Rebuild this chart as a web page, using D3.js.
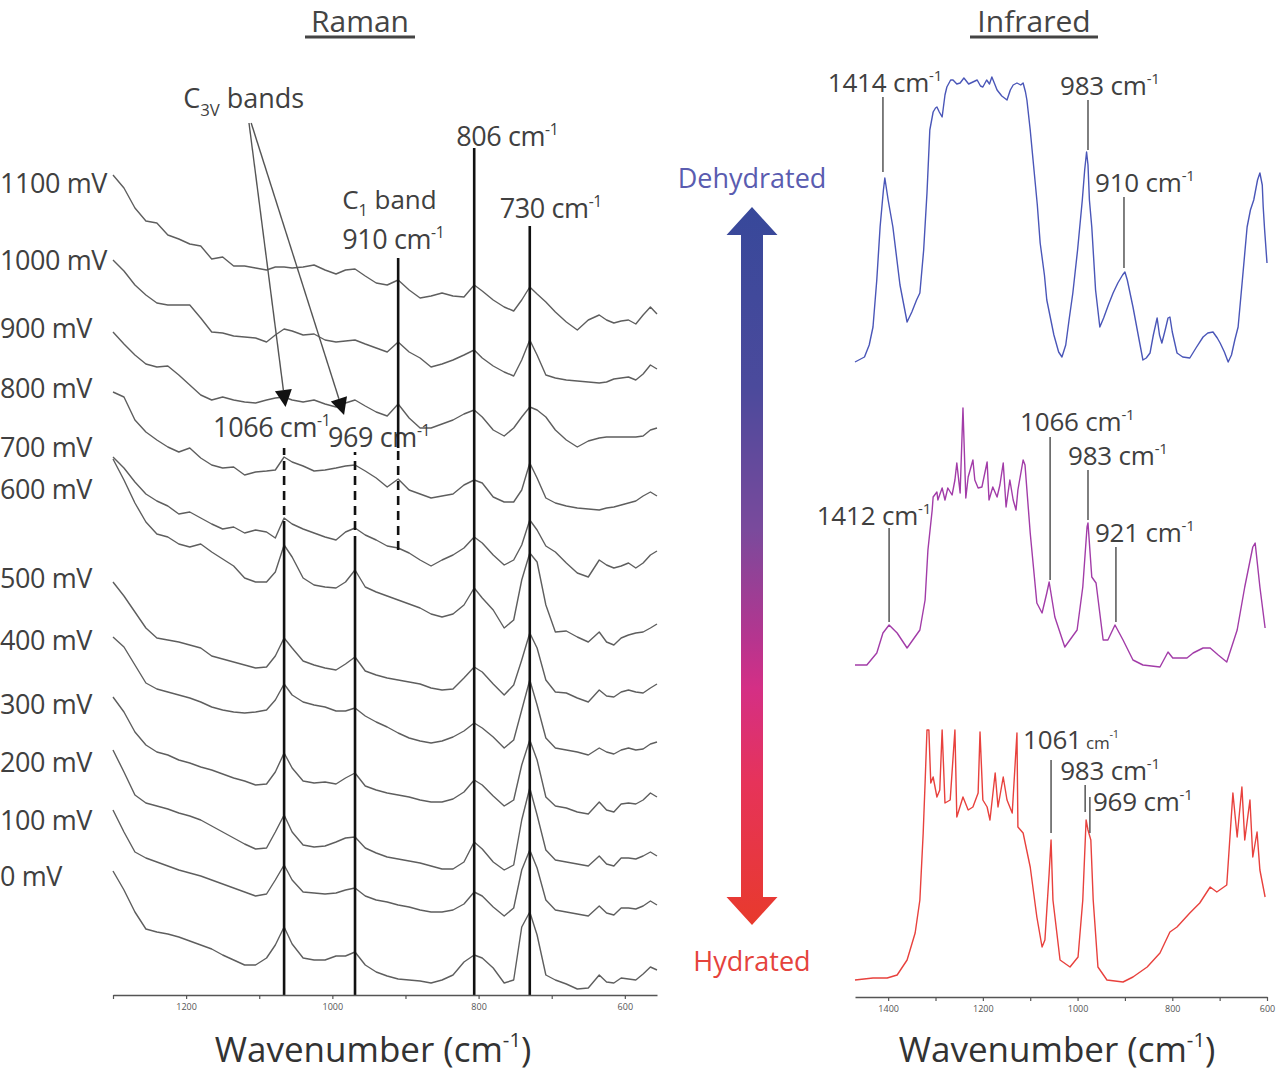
<!DOCTYPE html>
<html>
<head>
<meta charset="utf-8">
<script src="https://cdn.jsdelivr.net/npm/d3@7/dist/d3.min.js"></script>
<style>
html,body{margin:0;padding:0;background:#fff;}
svg{display:block;}
</style>
</head>
<body>
<svg id="chart" width="1280" height="1073"></svg>
<script>
// ================= DATA =================
// Raman: common wavenumber grid (cm-1)
const ramanWn = [1300,1285,1270,1255,1240,1225,1210,1195,1180,1165,1150,1135,1120,1105,1090,1078,1066,1055,1040,1025,1010,995,982,969,955,940,925,910,895,880,865,850,835,820,806,795,780,765,752,741,730,720,708,695,680,665,650,635,625,615,605,595,585,575,565,556];
const ramanPotentials = ["1100 mV","1000 mV","900 mV","800 mV","700 mV","600 mV","500 mV","400 mV","300 mV","200 mV","100 mV","0 mV"];
// stacking offset of each spectrum (a.u.)
const ramanOffsets = [665,610,545,485,415,350,290,240,180,125,75,5];
// intensities (a.u.)
const raman1100 = [155,142,122,109,107,95,91,86,84,71,73,64,64,62,60,63,63,62,63,65,60,56,60,61,54,47,45,50,40,32,34,37,34,33,45,39,30,23,19,30,43,36,28,18,8,0,10,15,10,7,9,10,6,15,23,16];
const raman1000 = [125,114,100,90,82,80,80,80,67,53,52,49,48,47,43,50,56,54,50,51,45,43,44,45,41,37,33,43,33,27,18,21,25,30,35,27,19,13,9,25,45,30,10,7,5,4,3,2,3,6,7,8,5,11,20,16];
const raman900  = [118,106,95,86,83,84,75,65,55,50,53,50,48,47,50,52,53,50,48,50,46,43,47,50,44,38,34,46,32,22,22,26,30,36,40,33,20,14,22,33,43,40,33,20,10,3,9,12,13,13,13,13,13,14,20,22];
const raman800  = [118,113,90,78,70,63,58,62,52,45,42,43,35,38,39,40,53,48,44,39,40,42,44,45,39,32,23,31,20,16,12,14,16,25,30,27,13,8,8,20,47,32,12,7,4,2,1,0,2,3,5,7,9,14,18,14];
const raman700  = [123,112,98,86,79,74,66,68,62,56,51,53,47,50,48,42,62,56,51,47,43,40,48,52,45,40,34,32,27,20,14,20,25,32,43,37,25,15,20,35,60,50,34,28,17,7,3,20,15,12,14,17,12,17,25,29];
const raman600  = [186,165,142,123,111,108,101,98,101,93,86,79,67,63,63,73,100,88,67,60,58,57,63,75,58,53,49,45,41,37,31,28,31,40,57,47,35,17,25,65,92,83,40,13,14,8,3,13,3,0,7,10,12,13,17,21];
const raman500  = [123,109,93,77,67,65,63,60,57,49,46,43,40,37,38,49,67,57,44,40,37,35,41,48,34,30,27,25,23,21,17,15,16,27,38,33,21,10,20,45,72,57,25,13,12,7,3,15,9,8,13,15,13,12,17,21];
const raman400  = [118,108,90,72,66,63,60,57,53,48,45,43,42,43,45,55,71,60,53,50,48,44,44,47,39,33,28,22,17,14,12,14,18,24,32,27,18,7,15,45,75,50,17,7,5,3,0,7,3,1,5,7,5,6,11,13];
const raman300  = [118,103,83,70,63,60,55,52,48,45,41,37,34,30,31,43,62,47,34,32,33,31,37,42,29,25,22,20,18,15,13,13,16,23,35,30,19,9,15,50,75,55,18,9,7,3,1,13,5,3,11,12,11,15,22,18];
const raman200  = [120,98,75,67,64,61,57,54,50,44,38,32,26,21,22,38,55,38,25,23,24,28,32,33,22,17,13,11,9,7,4,1,1,8,28,21,8,0,5,50,82,55,20,10,8,6,4,14,6,4,12,12,11,14,18,14];
const raman100  = [110,88,68,62,58,54,50,47,44,40,36,32,28,24,26,40,55,40,28,27,26,27,30,32,24,20,18,15,13,10,8,8,10,16,28,24,13,4,12,50,70,52,20,10,8,6,4,14,7,5,12,12,11,14,19,15];
const raman0    = [119,100,78,61,58,56,53,49,45,41,35,30,25,25,32,45,63,46,32,30,30,34,34,38,25,18,14,11,10,9,7,10,15,28,35,32,22,7,10,63,78,55,15,10,6,1,2,15,8,7,12,11,10,16,23,20];
const ramanSeries = [raman1100,raman1000,raman900,raman800,raman700,raman600,raman500,raman400,raman300,raman200,raman100,raman0];
const ramanTicks = [1300,1200,1100,1000,900,800,700,600];
const ramanBandWn = [1066, 969, 910, 806, 730];
const ramanBandText = ["1066", "969", "910", "806", "730"];

// Infrared spectra (absorbance a.u.)
const blueWn = [1470,1450,1440,1432,1424,1417,1410,1407,1400,1390,1375,1360,1350,1340,1333,1325,1318,1312,1305,1300,1297,1292,1286,1280,1276,1268,1263,1255,1248,1240,1230,1221,1212,1205,1200,1192,1186,1181,1175,1170,1160,1149,1142,1136,1128,1120,1115,1110,1107,1100,1094,1085,1079,1070,1065,1050,1040,1033,1025,1018,1010,1000,990,985,981,978,975,970,962,953,945,935,925,915,905,900,895,883,870,862,855,847,840,832,827,822,815,809,805,800,790,778,763,750,735,725,714,705,699,690,682,675,668,661,652,642,635,628,620,615,610,608,605,600];
const blueAbs = [0,5,17,35,82,135,172,184,162,135,77,40,50,62,69,112,169,232,250,254,255,250,245,267,275,282,282,278,279,284,278,280,282,276,275,282,278,285,278,272,266,262,272,277,279,277,279,270,262,232,202,157,119,87,62,27,10,5,17,42,69,112,162,192,210,197,162,135,72,35,44,57,69,79,87,90,82,55,22,2,4,9,27,44,27,19,32,44,45,30,9,5,4,14,25,29,30,24,19,10,0,7,22,35,82,135,152,162,182,189,177,155,132,99];
const magWn = [1470,1445,1424,1411,1398,1381,1360,1348,1333,1322,1316,1307,1305,1297,1295,1286,1280,1274,1265,1259,1255,1248,1242,1236,1231,1221,1217,1210,1202,1191,1187,1179,1170,1164,1157,1151,1143,1136,1130,1126,1115,1111,1100,1086,1075,1065,1060,1048,1027,1001,989,980,978,970,961,946,936,921,904,883,862,826,809,799,769,756,735,720,703,685,663,647,630,625,615,604];
const magAbs = [2,2,14,34,42,34,19,27,37,67,117,157,170,175,167,179,167,179,172,187,204,174,259,169,190,207,187,179,180,205,167,180,170,182,204,160,187,167,157,177,207,202,134,64,54,74,85,50,20,37,80,140,144,90,84,27,27,42,27,7,2,0,15,9,9,14,19,19,12,5,37,80,120,124,80,39];
const redWn = [1470,1432,1402,1381,1360,1343,1333,1326,1322,1318,1314,1310,1305,1297,1291,1286,1280,1269,1259,1255,1242,1231,1221,1210,1206,1200,1191,1185,1174,1168,1157,1149,1138,1128,1126,1115,1100,1086,1075,1069,1060,1056,1052,1037,1016,999,989,982,978,972,967,957,938,904,883,853,826,805,790,763,742,720,706,685,672,663,653,647,636,630,621,615,604];
const redAbs = [2,4,4,7,22,49,82,149,199,252,252,199,205,185,192,252,179,182,252,165,185,172,175,189,250,182,175,162,209,175,205,182,169,249,155,149,115,65,35,42,109,142,82,22,15,25,82,162,152,142,82,15,2,0,5,15,29,50,55,69,79,95,90,97,189,145,195,142,182,125,150,112,85];
const irTicks = [1400,1300,1200,1100,1000,900,800,700,600];
const blueMarkWn = [1411, 978, 902];
const blueMarkText = ["1414", "983", "910"];
const magMarkWn = [1398, 1058, 978, 919];
const magMarkText = ["1412", "1066", "983", "921"];
const redMarkWn = [1056, 984, 974];
const redMarkText = ["1061", "983", "969"];

// ================= LAYOUT =================
const FONT = "'Open Sans','Noto Sans',sans-serif";
const INK = "#404040";
const svg = d3.select("#chart");
svg.append("rect").attr("width",1280).attr("height",1073).attr("fill","#fff");

function rich(parent, x, y, segs, size, fill, anchor) {
  const t = parent.append("text").attr("x", x).attr("y", y)
    .attr("font-family", FONT).attr("font-size", size).attr("fill", fill)
    .attr("text-anchor", anchor || "start");
  let shift = 0;
  segs.forEach(s => {
    const ts = t.append("tspan").text(s.t);
    let target = 0;
    if (s.sup) { ts.attr("font-size", size * 0.58); target = -size * 0.42; }
    else if (s.sub) { ts.attr("font-size", size * 0.62); target = size * 0.28; }
    else if (s.size) { ts.attr("font-size", s.size); }
    if (s.sup && s.size) ts.attr("font-size", s.size);
    if (target - shift !== 0) ts.attr("dy", target - shift);
    shift = target;
  });
  return t;
}

// ---------- Raman panel ----------
const xR = d3.scaleLinear().domain([1300, 556]).range([113, 657]);
const yR = d3.scaleLinear().domain([0, 850]).range([995, 145]);

const gR = svg.append("g");
ramanSeries.forEach((s, k) => {
  const line = d3.line().x((d, i) => xR(ramanWn[i])).y(d => yR(ramanOffsets[k] + d));
  gR.append("path").attr("d", line(s)).attr("fill", "none")
    .attr("stroke", "#5e5e5e").attr("stroke-width", 1.4).attr("stroke-linejoin", "round");
});

// potential labels (level in a.u.)
const labelLevels = [812,735,667,607,548,506,417,355,291,233,175,119];
ramanPotentials.forEach((p, k) => {
  gR.append("text").attr("x", 0).attr("y", yR(labelLevels[k]) + 10)
    .attr("font-family", FONT).attr("font-size", 27).attr("fill", INK)
    .attr("letter-spacing", -0.4).text(p);
});

// band marker lines
const bandLayout = [
  {solid: [0, 465], dash: [465, 547], lx: -71, ly: 558},
  {solid: [0, 450], dash: [450, 543], lx: -27, ly: 548},
  {solid: [547, 737], dash: [445, 547], lx: -56, ly: 746},
  {solid: [0, 847], lx: -18, ly: 849},
  {solid: [0, 769], lx: -30, ly: 777}
];
ramanBandWn.forEach((wn, i) => {
  const L = bandLayout[i], x = xR(wn);
  gR.append("line").attr("x1", x).attr("x2", x).attr("y1", yR(L.solid[0])).attr("y2", yR(L.solid[1]))
    .attr("stroke", "#111").attr("stroke-width", 2.6);
  if (L.dash) {
    gR.append("line").attr("x1", x).attr("x2", x).attr("y1", yR(L.dash[0])).attr("y2", yR(L.dash[1]))
      .attr("stroke", "#111").attr("stroke-width", 2.6).attr("stroke-dasharray", "9,6");
  }
  rich(gR, x + L.lx, yR(L.ly), [{t: ramanBandText[i] + " cm"}, {sup: true, t: "-1"}], 27, INK, "start")
    .attr("letter-spacing", -0.4);
});
// C1 band label
rich(gR, xR(910) - 56, yR(786), [{t: "C"}, {sub: true, t: "1"}, {t: " band"}], 26, INK, "start");
// C3v bands label + arrows
rich(gR, xR(1204), yR(887), [{t: "C"}, {sub: true, t: "3V"}, {t: " bands"}], 27, INK, "start");
const arrows = [[1114, 872, 1064, 588], [1111, 872, 984, 580]];
arrows.forEach(a => {
  const x1 = xR(a[0]), y1 = yR(a[1]), x2 = xR(a[2]), y2 = yR(a[3]);
  const ang = Math.atan2(y2 - y1, x2 - x1), len = 17, hw = 8.5;
  const bx = x2 - len * Math.cos(ang), by = y2 - len * Math.sin(ang);
  gR.append("line").attr("x1", x1).attr("y1", y1).attr("x2", bx).attr("y2", by)
    .attr("stroke", "#555").attr("stroke-width", 1.4);
  const px = -Math.sin(ang) * hw, py = Math.cos(ang) * hw;
  gR.append("path").attr("d", `M${x2},${y2}L${bx + px},${by + py}L${bx - px},${by - py}Z`).attr("fill", "#111");
});

// Raman axis
const axR = d3.axisBottom(xR).tickValues(ramanTicks).tickSize(4).tickSizeOuter(0)
  .tickFormat(d => d % 200 === 0 ? d : "");
const gAxR = svg.append("g").attr("transform", `translate(0,${yR(0)})`).call(axR);
gAxR.select(".domain").attr("stroke", "#555").attr("stroke-width", 1.6);
gAxR.selectAll(".tick line").attr("stroke", "#555").attr("stroke-width", 1.2);
gAxR.selectAll(".tick text").attr("font-family", FONT).attr("font-size", 9).attr("fill", "#555").attr("dy", "0.9em");
rich(svg, 373, 1062, [{t: "Wavenumber (cm"}, {sup: true, t: "-1"}, {t: ")"}], 35, "#333", "middle");

// Raman title
svg.append("text").attr("x", 360).attr("y", 32).attr("text-anchor", "middle")
  .attr("font-family", FONT).attr("font-size", 30).attr("fill", "#444").text("Raman");
svg.append("line").attr("x1", 305).attr("x2", 415).attr("y1", 37).attr("y2", 37).attr("stroke", "#444").attr("stroke-width", 3);

// ---------- gradient arrow ----------
const defs = svg.append("defs");
const grad = defs.append("linearGradient").attr("id", "hydGrad").attr("x1", 0).attr("y1", 0).attr("x2", 0).attr("y2", 1);
[[0, "#37489a"], [0.25, "#4b4a9c"], [0.45, "#7a4a9c"], [0.6, "#b5358f"], [0.67, "#d42f85"], [0.8, "#e6335a"], [1, "#e83a2c"]]
  .forEach(s => grad.append("stop").attr("offset", s[0]).attr("stop-color", s[1]));
const ax = 752, aTop = 207, aBot = 925, head = 28, hw = 25.5, sw = 11;
svg.append("path").attr("fill", "url(#hydGrad)")
  .attr("d", `M${ax},${aTop}L${ax + hw},${aTop + head}L${ax + sw},${aTop + head}L${ax + sw},${aBot - head}L${ax + hw},${aBot - head}L${ax},${aBot}L${ax - hw},${aBot - head}L${ax - sw},${aBot - head}L${ax - sw},${aTop + head}L${ax - hw},${aTop + head}Z`);
svg.append("text").attr("x", ax).attr("y", 188).attr("text-anchor", "middle").attr("font-family", FONT)
  .attr("font-size", 27).attr("fill", "#5a5cb0").text("Dehydrated");
svg.append("text").attr("x", ax).attr("y", 971).attr("text-anchor", "middle").attr("font-family", FONT)
  .attr("font-size", 27).attr("fill", "#e5433c").text("Hydrated");

// ---------- Infrared panel ----------
const xI = d3.scaleLinear().domain([1470, 600]).range([855, 1267]);
const irPanels = [
  {wn: blueWn, v: blueAbs, base: 362, color: "#4a56b8", mWn: blueMarkWn, mText: blueMarkText,
   lay: [{top: 265, bot: 190, ly: 92, dx: 2, anchor: "middle"},
         {top: 262, bot: 212, ly: 95, dx: -28, anchor: "start"},
         {top: 165, bot: 94, ly: 192, dx: -29, anchor: "start"}]},
  {wn: magWn, v: magAbs, base: 667, color: "#a23ca8", mWn: magMarkWn, mText: magMarkText,
   lay: [{top: 139, bot: 45, ly: 525, dx: 42, anchor: "end"},
         {top: 230, bot: 87, ly: 431, dx: -30, anchor: "start"},
         {top: 197, bot: 147, ly: 465, dx: -20, anchor: "start"},
         {top: 120, bot: 45, ly: 542, dx: -21, anchor: "start"}]},
  {wn: redWn, v: redAbs, base: 982, color: "#e8413d", mWn: redMarkWn, mText: redMarkText,
   lay: [{top: 222, bot: 149, ly: 749, dx: -28, anchor: "start", small: true},
         {top: 197, bot: 170, ly: 780, dx: -25, anchor: "start"},
         {top: 185, bot: 149, ly: 811, dx: 3, anchor: "start"}]}
];
irPanels.forEach(P => {
  const y = d3.scaleLinear().domain([0, 300]).range([P.base, P.base - 300]);
  const line = d3.line().x((d, i) => xI(P.wn[i])).y(d => y(d));
  svg.append("path").attr("d", line(P.v)).attr("fill", "none").attr("stroke", P.color)
    .attr("stroke-width", 1.4).attr("stroke-linejoin", "round");
  P.mWn.forEach((wn, i) => {
    const L = P.lay[i], x = xI(wn);
    svg.append("line").attr("x1", x).attr("x2", x).attr("y1", y(L.top)).attr("y2", y(L.bot))
      .attr("stroke", "#555").attr("stroke-width", 1.5);
    const segs = L.small
      ? [{t: P.mText[i]}, {t: " cm", size: 17}, {sup: true, t: "-1", size: 11}]
      : [{t: P.mText[i] + " cm"}, {sup: true, t: "-1"}];
    rich(svg, x + L.dx, L.ly, segs, 26, INK, L.anchor).attr("letter-spacing", -0.2);
  });
});
const axI = d3.axisBottom(xI).tickValues(irTicks).tickSize(4).tickSizeOuter(0)
  .tickFormat(d => d % 200 === 0 ? d : "");
const gAxI = svg.append("g").attr("transform", "translate(0,997)").call(axI);
gAxI.select(".domain").attr("stroke", "#555").attr("stroke-width", 1.6);
gAxI.selectAll(".tick line").attr("stroke", "#555").attr("stroke-width", 1.2);
gAxI.selectAll(".tick text").attr("font-family", FONT).attr("font-size", 9).attr("fill", "#555").attr("dy", "0.9em");
rich(svg, 1057, 1062, [{t: "Wavenumber (cm"}, {sup: true, t: "-1"}, {t: ")"}], 35, "#333", "middle");

svg.append("text").attr("x", 1034).attr("y", 32).attr("text-anchor", "middle")
  .attr("font-family", FONT).attr("font-size", 30).attr("fill", "#444").text("Infrared");
svg.append("line").attr("x1", 970).attr("x2", 1098).attr("y1", 37).attr("y2", 37).attr("stroke", "#444").attr("stroke-width", 3);
</script>
</body>
</html>
